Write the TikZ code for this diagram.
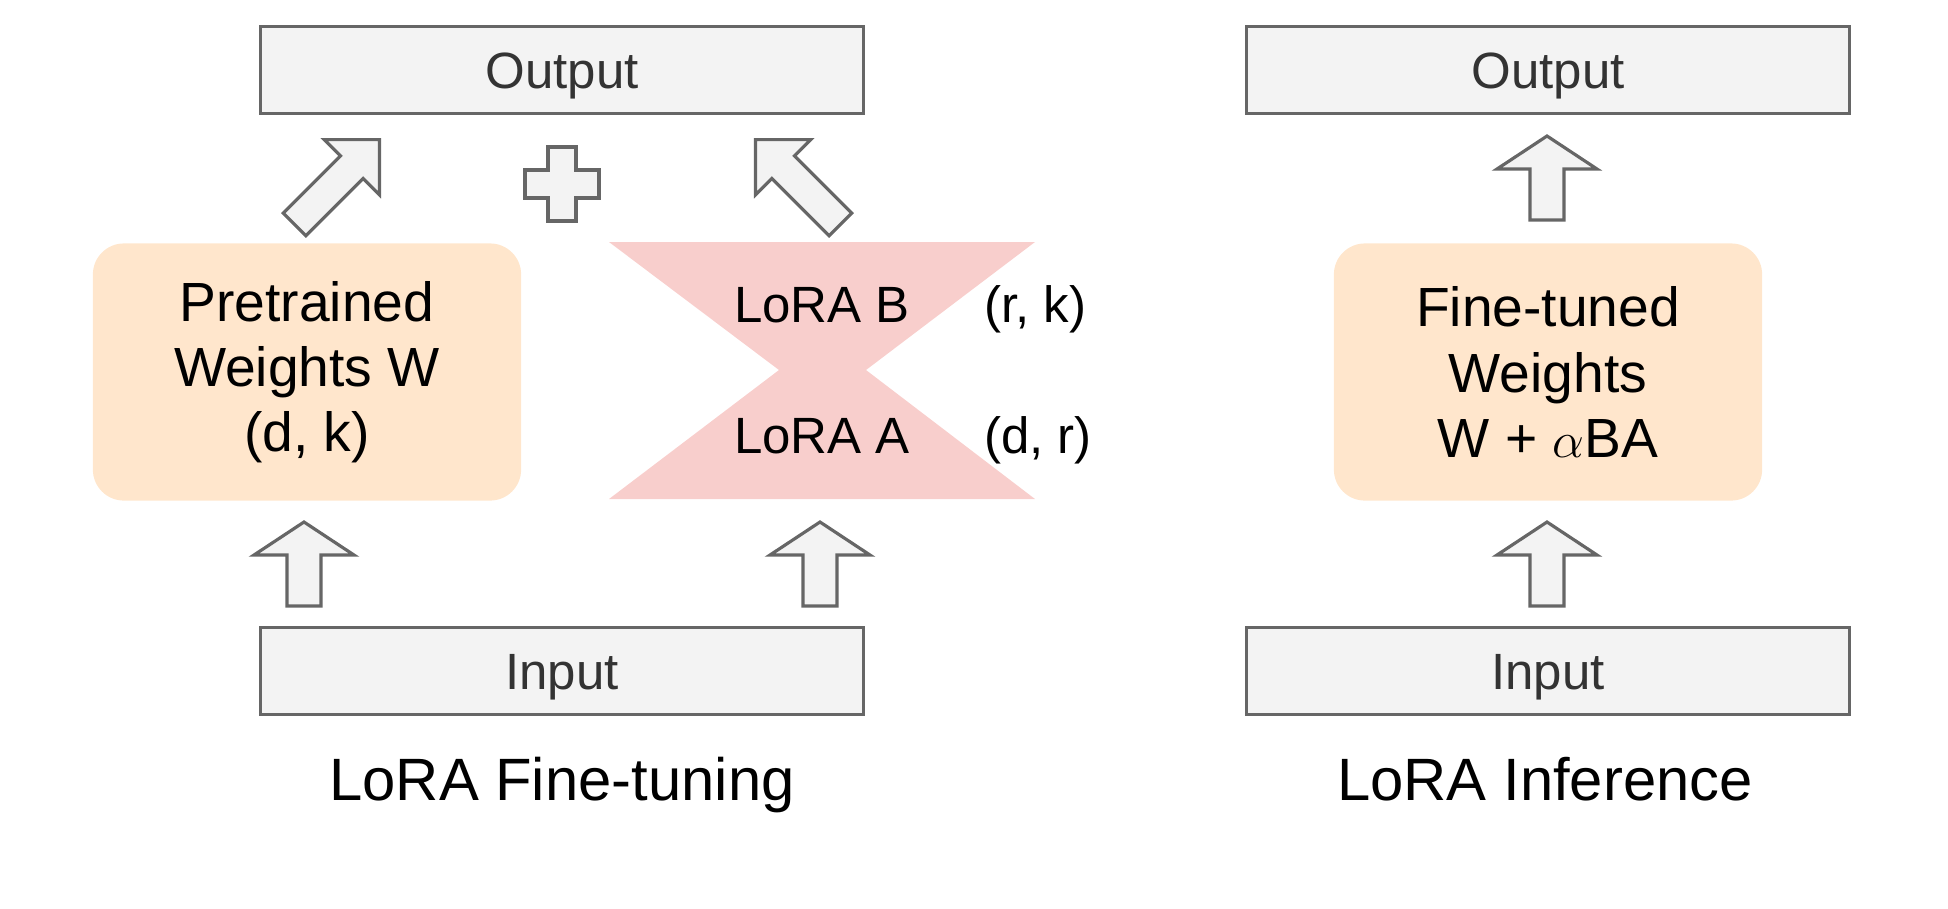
\documentclass[tikz,border=0pt]{standalone}
\usepackage{fontspec}
\setmainfont{Liberation Sans}
\usepackage{tikz}
\usetikzlibrary{positioning}
\definecolor{boxgray}{HTML}{F3F3F3}
\definecolor{linegray}{HTML}{666666}
\definecolor{txtgray}{HTML}{333333}
\definecolor{wtorange}{HTML}{FFE6CC}
\definecolor{lorapink}{HTML}{F8CECC}

\begin{document}
\begin{tikzpicture}[x=0.01cm, y=-0.01cm]
\tikzstyle{io}=[rectangle, draw=linegray, fill=boxgray, line width=0.9pt,
                minimum width=6.02cm, minimum height=0.87cm, inner sep=0pt,
                text height=10.4pt, text depth=0pt,
                text=txtgray, font=\fontsize{14.5}{17}\selectfont]
\tikzstyle{wts}=[rectangle, rounded corners=0.31cm, fill=wtorange, align=center,
                 minimum width=4.28cm, minimum height=2.57cm,
                 font=\fontsize{15.7}{18.5}\selectfont]
\tikzstyle{lbl}=[inner sep=0pt, font=\fontsize{14.5}{17}\selectfont]
\tikzstyle{ttl}=[inner sep=0pt, anchor=base, font=\fontsize{17}{20}\selectfont]
\tikzstyle{blk}=[draw=linegray, fill=boxgray, line width=0.9pt, line join=miter]
\useasboundingbox (0,0) rectangle (1948,908);
%% fine-tuning side
\node[io] (outL) at (562,70) {Output};
\node[io] (inL) at (562,671) {Input};
\node[wts] (pre) at (307,372) {Pretrained\\Weights W\\(d, k)};
\fill[lorapink] (609,242) -- (1035,242) -- (866,370) -- (1035,499) -- (609,499) -- (779,370) -- cycle;
\node[lbl] (loraB) at (822,305) {LoRA B};
\node[lbl] (loraA) at (822,436) {LoRA A};
\node[lbl, right=0.73cm of loraB.base east, anchor=base west] (rk) {(r, k)};
\node[lbl, right=0.73cm of loraA.base east, anchor=base west] (dr) {(d, r)};
\node[ttl] (ftTitle) at (562,800) {LoRA Fine-tuning};
%% inference side
\node[io] (outR) at (1548,70) {Output};
\node[io] (inR) at (1548,671) {Input};
\node[wts] (fine) at (1548,372) {Fine-tuned\\Weights\\W + $\alpha$BA};
\node[ttl] (infTitle) at (1545,800) {LoRA Inference};
%% block arrows
\foreach \x/\y in {304/564, 820/564, 1547/564, 1547/178}{\draw[blk, shift={(\x,\y)}] (0,-42) -- (50,-9) -- (17,-9) -- (17,42) -- (-17,42) -- (-17,-9) -- (-50,-9) -- cycle;}
\foreach \x/\a in {337/-45, 798/45}{\draw[blk, shift={(\x,182)}, rotate=\a] (0,-60) -- (39,-21) -- (16,-21) -- (16,60) -- (-16,60) -- (-16,-21) -- (-39,-21) -- cycle;}
%\draw plus sign
\draw[blk] (548,147) -- ++(28,0) -- ++(0,23) -- ++(23,0) -- ++(0,28) -- ++(-23,0) -- ++(0,23) -- ++(-28,0) -- ++(0,-23) -- ++(-23,0) -- ++(0,-28) -- ++(23,0) -- cycle;
\end{tikzpicture}
\end{document}
